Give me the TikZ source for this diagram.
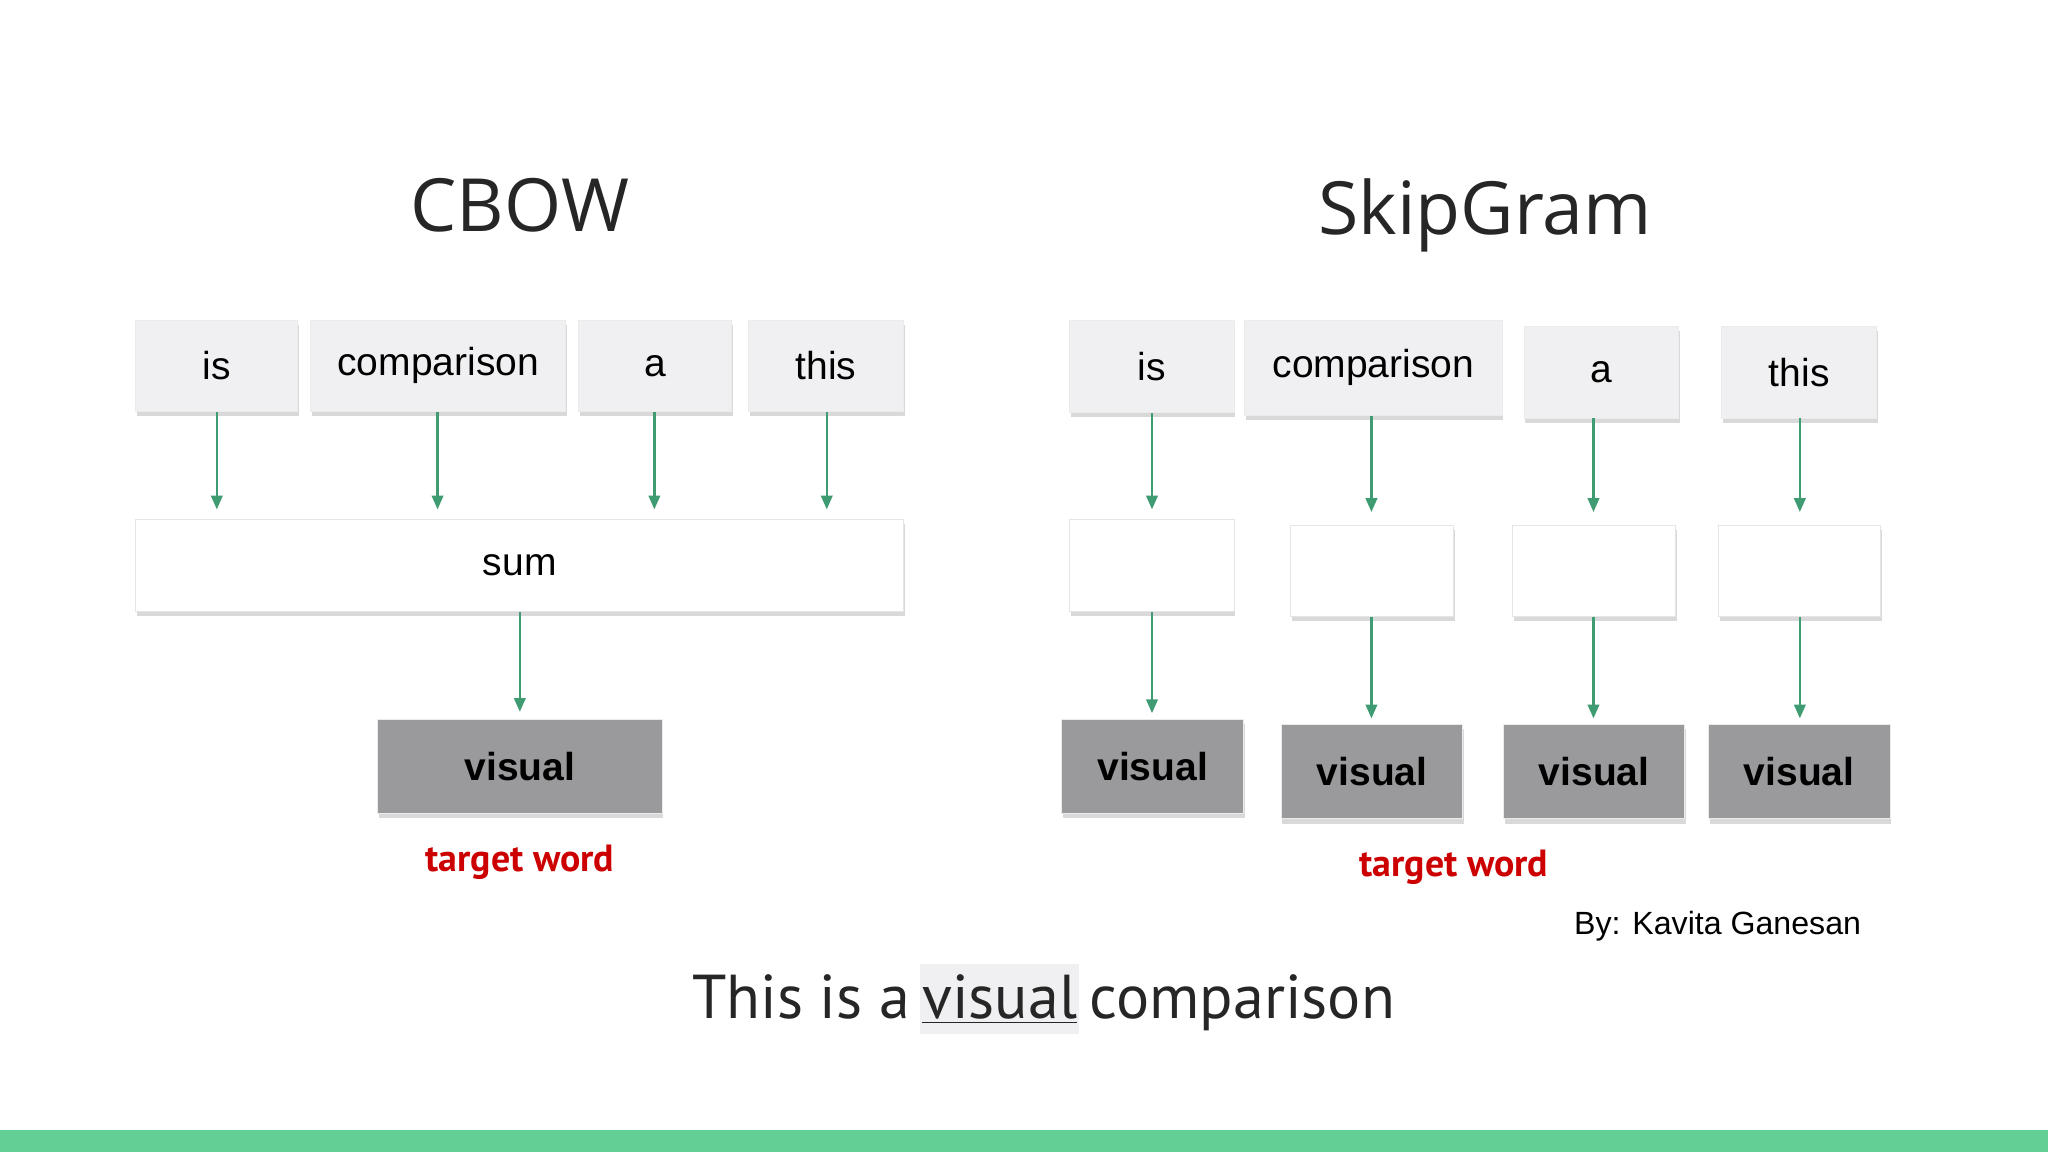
\documentclass[tikz,border=0pt]{standalone}
\usepackage{fontspec}
\setmainfont{Liberation Sans}
\newfontfamily\titlefont{Open Sans}
\newfontfamily\condfont{PT Sans}
\usetikzlibrary{shadows,arrows.meta}
\definecolor{boxfill}{HTML}{F0F0F2}
\definecolor{darkbox}{HTML}{9A999C}
\definecolor{arr}{HTML}{3F9C72}
\definecolor{redtxt}{HTML}{CC0000}
\definecolor{barc}{HTML}{62CF95}
\definecolor{ttl}{HTML}{262626}
\tikzset{
 wbox/.style={draw=black!8,fill=boxfill,drop shadow={shadow xshift=0.5pt,shadow yshift=-2pt,opacity=0.3},font=\fontsize{17}{20}\selectfont},
 ebox/.style={wbox,fill=white,draw=black!10},
 vbox/.style={wbox,fill=darkbox,font=\fontsize{17}{20}\selectfont\bfseries},
 conn/.style={arr,line width=1pt,-{Triangle[length=6pt,width=5pt]}},
 tw/.style={text=redtxt,font=\condfont\fontsize{16.5}{20}\selectfont\bfseries},
 mk/.style args={#1/#2/#3/#4}{minimum width={(#2-#1)*0.02cm},minimum height={(#4-#3)*0.02cm},inner sep=0pt},
}
\begin{document}
\begin{tikzpicture}[x=0.02cm,y=-0.02cm]
\useasboundingbox (0,0) rectangle (1568,882);
\fill[barc] (0,865) rectangle (1568,882);
\node[text=ttl,font=\titlefont\fontsize{32}{36}\selectfont] (t1) at (398,157) {CBOW};
\node[text=ttl,font=\titlefont\fontsize{32}{36}\selectfont] (t2) at (1137,165) {SkipGram};
% CBOW
\node[wbox,mk=104/228/245/315] (c1) at (166,280) {is};
\node[wbox,mk=238/433/245/315] (c2) at (335.5,280) {comparison};
\node[wbox,mk=443/560/245/315] (c3) at (501.5,280) {a};
\node[wbox,mk=573/692/245/315] (c4) at (632.5,280) {this};
\node[ebox,mk=104/692/398/468] (sum) at (398,433) {sum};
\node[vbox,mk=289/507/551/623] (cv) at (398,587) {visual};
\node[tw] (tw1) at (398,660) {target word};
\foreach \i/\x in {c1/166,c2/335,c3/501,c4/633}{
 \coordinate (e\i) at (\x,390);
 \draw[conn] (\i.south -| e\i) -- (e\i);}
\coordinate (ecv) at (398,545);
\draw[conn] (sum.south -| ecv) -- (ecv);
% SkipGram
\node[wbox,mk=819/945/245/316] (s1) at (882,280.5) {is};
\node[wbox,mk=953/1150/245/318] (s2) at (1051.5,281.5) {comparison};
\node[wbox,mk=1167/1285/250/320] (s3) at (1226,285) {a};
\node[wbox,mk=1318/1437/250/320] (s4) at (1377.5,285) {this};
\node[ebox,mk=819/945/398/468] (m1) at (882,433) {};
\node[ebox,mk=988/1113/402/472] (m2) at (1050.5,437) {};
\node[ebox,mk=1158/1283/402/472] (m3) at (1220.5,437) {};
\node[ebox,mk=1316/1440/402/472] (m4) at (1378,437) {};
\node[vbox,mk=813/952/551/623] (v1) at (882.5,587) {visual};
\node[vbox,mk=981/1120/555/627] (v2) at (1050.5,591) {visual};
\node[vbox,mk=1151/1290/555/627] (v3) at (1220.5,591) {visual};
\node[vbox,mk=1308/1447/555/627] (v4) at (1377.5,591) {visual};
\foreach \k/\x/\ya/\yb in {1/882/390/546,2/1050/392/550,3/1220/392/550,4/1378/392/550}{
 \coordinate (a\k) at (\x,\ya);
 \coordinate (b\k) at (\x,\yb);
 \draw[conn] (s\k.south -| a\k) -- (a\k);
 \draw[conn] (m\k.south -| b\k) -- (b\k);}
\node[tw] (tw2) at (1113,664) {target word};
\node[font=\fontsize{14}{16}\selectfont] (by) at (1315,709) {By: Kavita Ganesan};
\node[text=ttl,font=\condfont\fontsize{27}{30}\selectfont] (bt) at (799,765) {This is a\,{\setlength{\fboxsep}{1pt}\colorbox{boxfill}{\rule[-0.22em]{0pt}{1.05em}\underline{visual}}}\,comparison};
\end{tikzpicture}
\end{document}
